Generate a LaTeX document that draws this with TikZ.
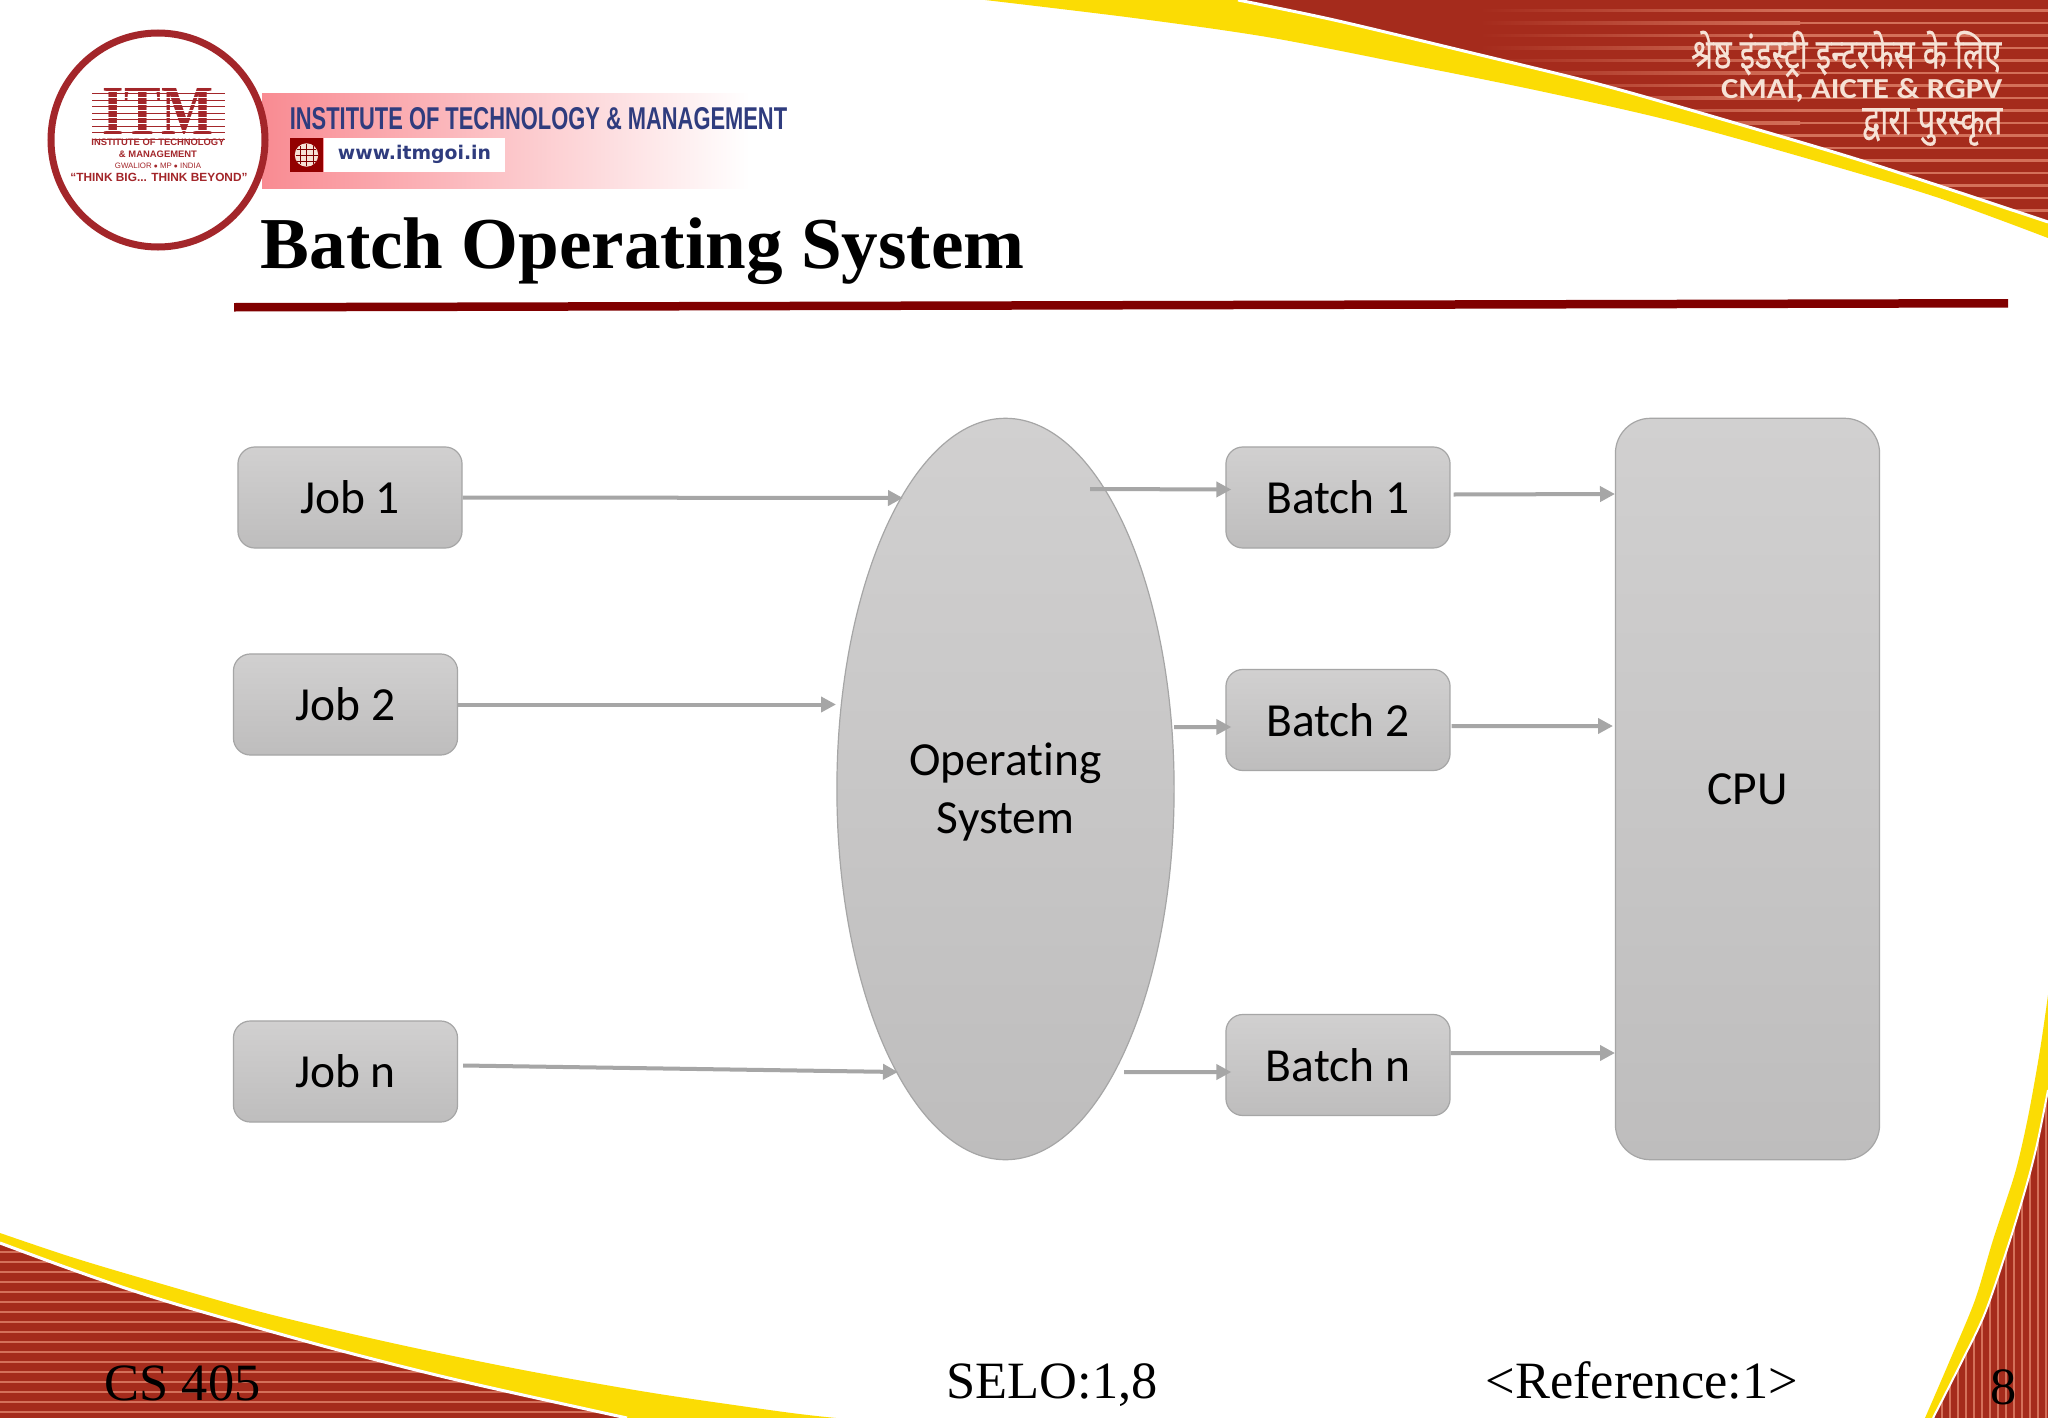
\documentclass[tikz,border=0pt]{standalone}
\usepackage{fontspec}
\setmainfont{Liberation Serif}
\setsansfont{Liberation Sans}
\newfontfamily\boxfont[Ligatures=NoCommon]{Carlito}
\newfontfamily\hindifont[Script=Devanagari,FakeBold=.5]{Noto Sans}
\newfontfamily\webfont{DejaVu Sans}
\usetikzlibrary{shapes.geometric,arrows.meta}

\definecolor{brickred}{HTML}{A52B1C}
\definecolor{stripered}{HTML}{D4705A}
\definecolor{bandyellow}{HTML}{FBDC04}
\definecolor{logored}{HTML}{A3262A}
\definecolor{bannerpink}{HTML}{F98B92}
\definecolor{bannernavy}{HTML}{2F3C7E}
\definecolor{rulered}{HTML}{800000}
\definecolor{cream}{HTML}{F6E2D6}
\definecolor{flowgray}{HTML}{A6A6A6}
\definecolor{boxtop}{HTML}{D1D0D0}
\definecolor{boxbottom}{HTML}{BEBDBD}

\tikzset{
    grayfill/.style={draw=flowgray, line width=.012cm, top color=boxtop, bottom color=boxbottom, text=black, font=\boxfont\fontsize{13.5}{16.5}\selectfont},
    jobbox/.style={grayfill, rounded corners=.17cm, minimum width=2.24cm, minimum height=1.01cm, inner sep=0},
    flow/.style={draw=flowgray, line width=.04cm, -{Triangle[length=.15cm,width=.15cm]}},
    foot/.style={anchor=base west, inner sep=0, font=\fontsize{14.9}{18}\selectfont},
    logotext/.style={inner sep=0, text=logored, font=\sffamily\bfseries},
}

\begin{document}
\begin{tikzpicture}[x=.01cm,y=-.01cm]
    \useasboundingbox (0,0) rectangle (2048,1418);
    \fill[white] (0,0) rectangle (2048,1418);

    % top right corner
    \fill[bandyellow] plot[smooth] coordinates {(985,0) (1134,18) (1267,37) (1401,63) (1535,90) (1668,120) (1802,157) (1936,197) (2048,238)} -- (2048,0) -- cycle;
    \begin{scope}
        \clip plot[smooth] coordinates {(1238,0) (1334,20) (1468,52) (1602,85) (1735,123) (1869,163) (2048,222)} -- (2048,0) -- cycle;
        \fill[brickred] (1200,0) rectangle (2048,240);
        \foreach \y in {0,...,18}
            \shade[left color=brickred, right color=stripered] (1480,{9+12.5*\y}) rectangle (1800,{11.5+12.5*\y});
        \foreach \y in {0,...,18}
            \fill[stripered] (1800,{9+12.5*\y}) rectangle (2048,{11.5+12.5*\y});
    \end{scope}
    \draw[white,line width=.03cm] plot[smooth] coordinates {(1238,0) (1334,20) (1468,52) (1602,85) (1735,123) (1869,163) (2048,222)};

    % bottom left corner
    \fill[bandyellow] plot[smooth] coordinates {(0,1233) (65,1255) (131,1275) (261,1312) (392,1343) (523,1370) (653,1393) (784,1412) (836,1418)} -- (0,1418) -- cycle;
    \begin{scope}
        \clip plot[smooth] coordinates {(0,1243) (65,1267) (131,1290) (196,1310) (327,1347) (457,1380) (627,1418)} -- (0,1418) -- cycle;
        \fill[brickred] (0,1230) rectangle (650,1418);
        \foreach \y in {0,...,16}
            \fill[stripered] (0,{1251+10*\y}) rectangle (650,{1253+10*\y});
    \end{scope}
    \draw[white,line width=.03cm] plot[smooth] coordinates {(0,1243) (65,1267) (131,1290) (196,1310) (327,1347) (457,1380) (627,1418)};

    % bottom right corner
    \fill[bandyellow] plot[smooth] coordinates {(2048,995) (2040,1050) (2028,1117) (2015,1173) (1993,1240) (1975,1300) (1950,1360) (1925,1418)} -- (2048,1418) -- cycle;
    \begin{scope}
        \clip plot[smooth] coordinates {(2048,1090) (2038,1140) (2028,1180) (2010,1240) (1985,1313) (1960,1365) (1933,1418)} -- (2048,1418) -- cycle;
        \fill[brickred] (1920,1080) rectangle (2048,1418);
        \foreach \x in {0,...,16}
            \fill[stripered] ({1925+8*\x},1080) rectangle ({1926.5+8*\x},1418);
    \end{scope}
    \draw[white,line width=.02cm] plot[smooth] coordinates {(2048,1090) (2038,1140) (2028,1180) (2010,1240) (1985,1313) (1960,1365) (1933,1418)};

    % banner and logo
    \shade[left color=bannerpink, middle color=bannerpink!55!white, right color=white] (262,93) rectangle (750,188);
    \node[inner sep=0, text=bannernavy, font=\sffamily\bfseries] (institute) at (538.5,119) {\resizebox{4.97cm}{.22cm}{INSTITUTE OF TECHNOLOGY \& MANAGEMENT}};
    \fill[rulered!85!red] (290,138) rectangle (323,172);
    \fill[white] (324,138) rectangle (505,172);
    \draw[fill=cream, draw=cream] (306.5,155) circle (11);
    \draw[rulered, line width=.008cm] (295.5,155) -- (317.5,155) (306.5,144) -- (306.5,166) (297,149) -- (316,149) (297,161) -- (316,161) (300,146) -- (300,164) (313,146) -- (313,164);
    \node[inner sep=0, text=bannernavy, font=\webfont\bfseries] (website) at (414.5,154) {\resizebox{1.53cm}{!}{www.itmgoi.in}};

    \draw[fill=white, draw=logored, line width=.07cm] (158,140) circle (107);
    \node[inner sep=0, text=logored, font=\bfseries] (itm) at (158,111.5) {\resizebox{1.1cm}{.46cm}{ITM}};
    \foreach \y in {0,...,7} {
        \fill[white] (90,{90.5+6.5*\y}) rectangle (226,{91.8+6.5*\y});
        \fill[logored] (92,{93.2+6.5*\y}) rectangle (225,{94+6.5*\y});
    }
    \node[logotext] (logoa) at (158,142.5) {\resizebox{1.33cm}{!}{INSTITUTE OF TECHNOLOGY}};
    \node[logotext] (logob) at (158,154.5) {\resizebox{.78cm}{!}{\& MANAGEMENT}};
    \node[logotext] (logoc) at (158,165.5) {\resizebox{.86cm}{!}{\mdseries GWALIOR $\bullet$ MP $\bullet$ INDIA}};
    \node[logotext] (logod) at (159,177.5) {\resizebox{1.77cm}{!}{“THINK BIG... THINK BEYOND”}};

    % top right text
    \node[anchor=east, inner sep=0, text=cream] (hindia) at (2002,54) {\resizebox{3.1cm}{!}{\scalebox{1}[1.35]{\hindifont श्रेष्ठ इंडस्ट्री इन्टरफेस के लिए}}};
    \node[anchor=east, inner sep=0, text=cream, font=\boxfont\bfseries] (hindib) at (2003,90) {\resizebox{2.81cm}{.2cm}{CMAI, AICTE \& RGPV}};
    \node[anchor=east, inner sep=0, text=cream] (hindic) at (2003,127) {\resizebox{1.4cm}{!}{\scalebox{1}[1.35]{\hindifont द्वारा पुरस्कृत}}};

    % title
    \node[anchor=base west, inner sep=0, font=\bfseries\fontsize{20.8}{25}\selectfont] (title) at (260,268) {Batch Operating System};
    \fill[rulered] (234,303) -- (2008,299) -- (2008,307.5) -- (234,311.5) -- cycle;

    % diagram
    \node[jobbox] (job1) at (350,497.5) {Job 1};
    \node[jobbox] (job2) at (345.5,704.5) {Job 2};
    \node[jobbox] (jobn) at (345.5,1071.5) {Job n};

    \node[grayfill, ellipse, minimum width=3.37cm, minimum height=7.41cm, inner sep=0] (os) at (1005.5,789) {};
    \node[align=center, inner sep=0, font=\boxfont\fontsize{13.5}{16.5}\selectfont] (oslabel) at (1005.5,792) {Operating\\System};

    \node[jobbox] (batch1) at (1338,497.5) {Batch 1};
    \node[jobbox] (batch2) at (1338,720) {Batch 2};
    \node[jobbox] (batchn) at (1338,1065) {Batch n};

    \node[grayfill, rounded corners=.35cm, minimum width=2.64cm, minimum height=7.41cm, inner sep=0] (cpu) at (1747.5,789) {CPU};

    \coordinate (osin1) at (903,498);
    \coordinate (osin2) at (836,704.5);
    \coordinate (osinn) at (898,1072);
    \coordinate (osout1) at (1090,489);
    \coordinate (osout2) at (1174,727);
    \coordinate (osoutn) at (1124,1072);
    \coordinate (cpuin1) at (1615,494);
    \coordinate (cpuin2) at (1613,726);
    \coordinate (cpuinn) at (1615,1053);

    \draw[flow] (job1.east) -- (osin1);
    \draw[flow] (job2.east) -- (osin2);
    \draw[flow] ([xshift=.05cm,yshift=.06cm]jobn.east) -- (osinn);

    \draw[flow] (osout1) -- ([xshift=.06cm,yshift=.08cm]batch1.west);
    \draw[flow] (osout2) -- ([xshift=.06cm,yshift=-.07cm]batch2.west);
    \draw[flow] (osoutn) -- ([xshift=.06cm,yshift=-.07cm]batchn.west);

    \draw[flow] ([xshift=.03cm,yshift=.03cm]batch1.east) -- (cpuin1);
    \draw[flow] ([xshift=.01cm,yshift=-.06cm]batch2.east) -- (cpuin2);
    \draw[flow] ([yshift=.12cm]batchn.east) -- (cpuinn);

    % footer
    \node[foot] (course) at (104,1400) {CS 405};
    \node[foot] (selo) at (946,1398) {SELO:1,8};
    \node[foot] (reference) at (1485,1398) {<Reference:1>};
    \node[foot] (page) at (1990,1404) {8};
\end{tikzpicture}
\end{document}
